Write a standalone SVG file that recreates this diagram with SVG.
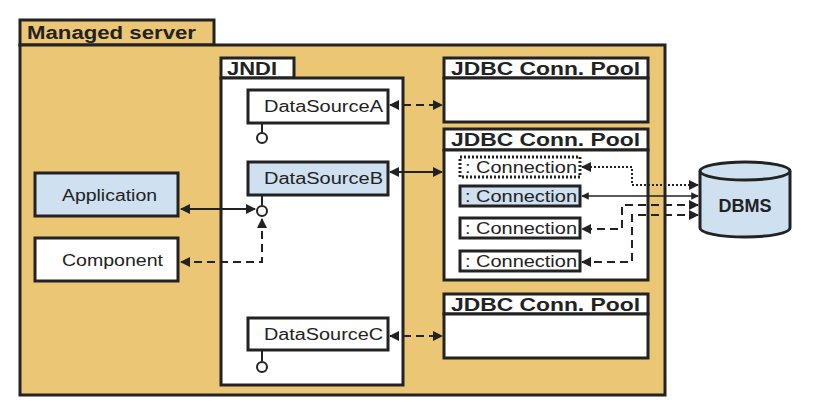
<svg xmlns="http://www.w3.org/2000/svg" width="814" height="402" viewBox="0 0 814 402">
<style>
.b{stroke:#222;stroke-width:3;}
.t{font-family:"Liberation Sans",Arial,sans-serif;fill:#222;}
.h{font-weight:bold;font-size:18px;}
.n{font-size:16px;}
.c{fill:none;stroke:#222;stroke-width:2;}
</style>
<defs>
<marker id="a" viewBox="0 0 10 10" refX="9" refY="5" markerWidth="5" markerHeight="5" orient="auto-start-reverse"><path d="M0,0L10,5L0,10z" fill="#222"/></marker>
</defs>
<rect width="814" height="402" fill="#fff"/>
<g id="server">
<rect x="20" y="20" width="194" height="25" fill="#ebc674" class="b"/>
<rect x="20" y="45" width="645" height="350" fill="#ebc674" class="b"/>
<text x="27" y="39" class="t h" textLength="169" lengthAdjust="spacingAndGlyphs">Managed server</text>
</g>
<g id="jndi">
<rect x="221" y="58" width="73" height="20" fill="#fff" class="b"/>
<rect x="221" y="78" width="182" height="307" fill="#fff" class="b"/>
<text x="227" y="75" class="t h" textLength="50" lengthAdjust="spacingAndGlyphs">JNDI</text>
</g>
<g id="dsA"><rect x="248" y="90" width="140" height="33" fill="#fff" class="b"/><text x="264" y="112" class="t n" textLength="119" lengthAdjust="spacingAndGlyphs">DataSourceA</text>
<line x1="262" y1="123" x2="262" y2="133" class="c"/><circle cx="262" cy="138" r="5" fill="#fff" class="c"/></g>
<g id="dsB"><rect x="248" y="162" width="140" height="33" fill="#cfe0f0" class="b"/><text x="264" y="184" class="t n" textLength="119" lengthAdjust="spacingAndGlyphs">DataSourceB</text>
<line x1="262" y1="195" x2="262" y2="205" class="c"/><circle cx="262" cy="211" r="5" fill="#fff" class="c"/></g>
<g id="dsC"><rect x="248" y="318" width="140" height="32" fill="#fff" class="b"/><text x="264" y="340" class="t n" textLength="119" lengthAdjust="spacingAndGlyphs">DataSourceC</text>
<line x1="262" y1="350" x2="262" y2="361" class="c"/><circle cx="262" cy="367" r="5" fill="#fff" class="c"/></g>
<g id="app"><rect x="35" y="173" width="143" height="43" fill="#cfe0f0" class="b"/><text x="62" y="201" class="t n" textLength="95" lengthAdjust="spacingAndGlyphs">Application</text></g>
<g id="comp"><rect x="35" y="238" width="143" height="43" fill="#fff" class="b"/><text x="62" y="266" class="t n" textLength="101" lengthAdjust="spacingAndGlyphs">Component</text></g>
<g id="pool1"><rect x="444" y="58" width="204" height="20" fill="#fff" class="b"/><rect x="444" y="78" width="204" height="44" fill="#fff" class="b"/><text x="451" y="75" class="t h" textLength="189" lengthAdjust="spacingAndGlyphs">JDBC Conn. Pool</text></g>
<g id="pool2"><rect x="444" y="129" width="204" height="21" fill="#fff" class="b"/><rect x="444" y="150" width="204" height="130" fill="#fff" class="b"/><text x="451" y="146" class="t h" textLength="189" lengthAdjust="spacingAndGlyphs">JDBC Conn. Pool</text></g>
<g id="pool3"><rect x="444" y="294" width="204" height="20" fill="#fff" class="b"/><rect x="444" y="314" width="204" height="44" fill="#fff" class="b"/><text x="451" y="311" class="t h" textLength="189" lengthAdjust="spacingAndGlyphs">JDBC Conn. Pool</text></g>
<g id="conn1"><rect x="460" y="157" width="120" height="20" fill="#fff" stroke="#222" stroke-width="3" stroke-dasharray="2,2"/><text x="465" y="173" class="t n" textLength="112" lengthAdjust="spacingAndGlyphs">: Connection</text></g>
<g id="conn2"><rect x="460" y="186" width="120" height="20" fill="#cfe0f0" class="b"/><text x="465" y="202" class="t n" textLength="112" lengthAdjust="spacingAndGlyphs">: Connection</text></g>
<g id="conn3"><rect x="460" y="218" width="120" height="20" fill="#fff" class="b"/><text x="465" y="234" class="t n" textLength="112" lengthAdjust="spacingAndGlyphs">: Connection</text></g>
<g id="conn4"><rect x="460" y="251" width="120" height="20" fill="#fff" class="b"/><text x="465" y="267" class="t n" textLength="112" lengthAdjust="spacingAndGlyphs">: Connection</text></g>
<g id="dbms">
<path d="M700,171 V228 A45,9 0 0 0 790,228 V171" fill="#cfe0f0" class="b"/>
<ellipse cx="745" cy="171" rx="45" ry="9" fill="#cfe0f0" class="b"/>
<text x="745" y="212" text-anchor="middle" class="t h">DBMS</text>
</g>
<g id="connectors">
<line x1="181" y1="209" x2="255" y2="209" class="c" marker-start="url(#a)" marker-end="url(#a)"/>
<path d="M181,262 H262 V219" class="c" stroke-dasharray="8,5" marker-start="url(#a)" marker-end="url(#a)"/>
<line x1="390" y1="172" x2="442" y2="172" class="c" marker-start="url(#a)" marker-end="url(#a)"/>
<line x1="390" y1="105" x2="442" y2="105" class="c" stroke-dasharray="8,5" marker-start="url(#a)" marker-end="url(#a)"/>
<line x1="390" y1="336" x2="442" y2="336" class="c" stroke-dasharray="8,5" marker-start="url(#a)" marker-end="url(#a)"/>
<path d="M582,167 H632 V185 H698" class="c" stroke-width="3" stroke-dasharray="2,2" marker-start="url(#a)" marker-end="url(#a)"/>
<line x1="582" y1="196" x2="698" y2="196" stroke="#222" stroke-width="1.5" marker-start="url(#a)" marker-end="url(#a)"/>
<path d="M698,205 H622 V229 H582" class="c" stroke-width="3" stroke-dasharray="8,5" marker-start="url(#a)" marker-end="url(#a)"/>
<path d="M698,215 H632 V262 H582" class="c" stroke-width="3" stroke-dasharray="8,5" marker-start="url(#a)" marker-end="url(#a)"/>
</g>
</svg>
